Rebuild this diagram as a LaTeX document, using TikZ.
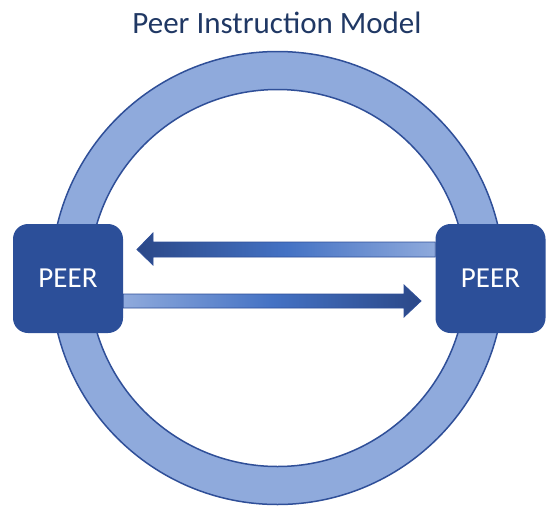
\documentclass[tikz,border=0pt]{standalone}
\usepackage{fontspec}
\setmainfont{Carlito}
\usetikzlibrary{calc}
\definecolor{ringfill}{HTML}{8FAADC}
\definecolor{ringline}{HTML}{2F4F98}
\definecolor{boxfill}{HTML}{2C4F99}
\definecolor{titlecol}{HTML}{203864}
\definecolor{arrdark}{HTML}{2B4888}
\definecolor{arrmid}{HTML}{4472C4}
\definecolor{arrlight}{HTML}{8FAADC}
\pgfdeclarehorizontalshading{arrLR}{100bp}{color(0bp)=(arrlight); color(25bp)=(arrlight); color(50bp)=(arrmid); color(75bp)=(arrdark); color(100bp)=(arrdark)}
\pgfdeclarehorizontalshading{arrRL}{100bp}{color(0bp)=(arrdark); color(25bp)=(arrdark); color(50bp)=(arrmid); color(75bp)=(arrlight); color(100bp)=(arrlight)}
\tikzset{
  peerbox/.style={fill=boxfill, draw=none, rounded corners=15pt, minimum width=110pt, minimum height=109pt, inner sep=0pt, text=white, font=\fontsize{29}{34}\selectfont},
  arrowshape/.style={draw=ringline, line width=0.8pt},
}
\begin{document}
\begin{tikzpicture}[x=1pt,y=-1pt]
\useasboundingbox (0,0) rectangle (556,522);
% title
\node[anchor=base, text=titlecol, font=\fontsize{31}{36}\selectfont, inner sep=0pt] (title) at (277,33) {Peer Instruction Model};
% ring
\coordinate (c) at (277.5,278);
\fill[ringfill, even odd rule] (c) circle[radius=226.5] (c) circle[radius=188.5];
\draw[ringline, line width=1.5pt] (c) circle[radius=226.5];
\draw[ringline, line width=1.5pt] (c) circle[radius=188.5];
% boxes
\node[peerbox] (L) at (68,278.5) {PEER};
\node[peerbox] (R) at (490.5,278.5) {PEER};
% top arrow (right to left)
\shade[shading=arrRL, arrowshape]
  ($(R.west)+(0,-21.5)$) -- (153,257) -- (153,265) -- (137,249.5) -- (153,233) -- (153,242) -- ($(R.west)+(0,-36.5)$) -- cycle;
% bottom arrow (left to right)
\shade[shading=arrLR, arrowshape]
  ($(L.east)+(0,15.5)$) -- (404,294) -- (404,285) -- (421,301) -- (404,317) -- (404,308) -- ($(L.east)+(0,29.5)$) -- cycle;
\end{tikzpicture}
\end{document}
